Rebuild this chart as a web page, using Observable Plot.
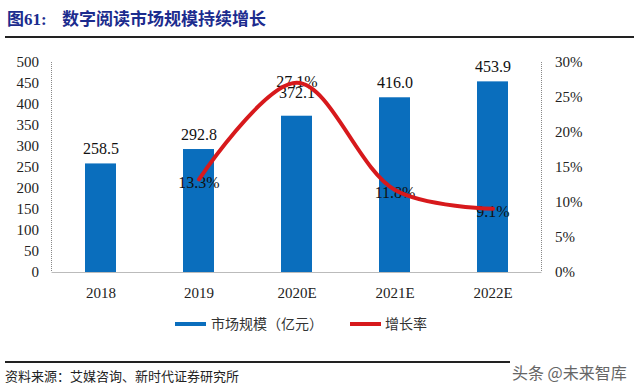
<!DOCTYPE html>
<html>
<head>
<meta charset="utf-8">
<script src="https://cdn.jsdelivr.net/npm/d3@7"></script>
<script src="https://cdn.jsdelivr.net/npm/@observablehq/plot@0.6"></script>
<style>
  html, body { margin: 0; padding: 0; background: #fff; }
  #wrap { position: relative; width: 640px; height: 386px; overflow: hidden; background: #fff; }
  .title { position: absolute; left: 7px; top: 5px; font-family: "Noto Sans CJK SC", sans-serif; font-weight: 700; font-size: 17px; color: #1c2c8e; white-space: nowrap; }
  .title .num { font-family: "Liberation Serif", serif; font-weight: 700; }
  .rule { position: absolute; background: #222; }
  #chart { position: absolute; left: 0; top: 40px; }
  .legend { position: absolute; top: 313px; font-family: "Noto Sans CJK SC", sans-serif; font-size: 14px; color: #333; white-space: nowrap; }
  .sw { position: absolute; top: 322px; height: 4px; width: 31px; }
  .source { position: absolute; left: 5px; top: 366px; font-family: "Noto Sans CJK SC", sans-serif; font-size: 13px; color: #222; white-space: nowrap; }
  .wm { position: absolute; left: 512px; top: 360px; font-family: "Noto Sans CJK SC", sans-serif; font-size: 16px; color: #666; white-space: nowrap; }
</style>
</head>
<body>
<div id="wrap">
  <div class="title"><span>图</span><span class="num">61:</span>&nbsp;&nbsp;&nbsp;&nbsp;数字阅读市场规模持续增长</div>
  <div class="rule" style="left:5px; top:36px; width:629px; height:2px;"></div>
  <div id="chart"></div>
  <div class="sw" style="left:175px; background:#0a6ebd;"></div>
  <div class="legend" style="left:211px;">市场规模（亿元）</div>
  <div class="sw" style="left:350px; background:#d7191c;"></div>
  <div class="legend" style="left:385px;">增长率</div>
  <div class="rule" style="left:5px; top:361px; width:505px; height:1.5px;"></div>
  <div class="source">资料来源：艾媒咨询、新时代证券研究所</div>
  <div class="wm">头条 @未来智库</div>
</div>
<script>
const years = ["2018", "2019", "2020E", "2021E", "2022E"];
const marketSize = [258.5, 292.8, 372.1, 416.0, 453.9];
const growthYears = ["2019", "2020E", "2021E", "2022E"];
const growthRate = [13.3, 27.1, 11.8, 9.1];
const leftTicks = [0, 50, 100, 150, 200, 250, 300, 350, 400, 450, 500];
const rightTicks = [0, 5, 10, 15, 20, 25, 30];

const leftMax = 500, rightMax = 30;
const k = leftMax / rightMax;

const bars = years.map((y, i) => ({year: y, value: marketSize[i]}));
const growth = growthYears.map((y, i) => ({year: y, rate: growthRate[i], scaled: growthRate[i] * k}));

const serif = "Liberation Serif, Times New Roman, serif";

const plot = Plot.plot({
  width: 640,
  height: 270,
  marginTop: 22,
  marginBottom: 38,
  marginLeft: 51.5,
  marginRight: 98.5,
  style: {fontFamily: serif, fontSize: "15px", color: "#222", background: "transparent"},
  x: {domain: years, paddingInner: 0.685, paddingOuter: 0.3425, align: 0.5, label: null},
  y: {domain: [0, leftMax], label: null},
  marks: [
    Plot.axisY(leftTicks, {anchor: "left", tickSize: 0, tickPadding: 13, label: null, fontSize: 15, fill: "#222"}),
    Plot.axisY(rightTicks.map(t => t * k), {anchor: "right", tickSize: 0, tickPadding: 13, label: null, fontSize: 15, fill: "#222", tickFormat: d => Math.round(d / k) + "%"}),
    Plot.axisX({tickSize: 0, tickPadding: 15, label: null, fontSize: 15, fill: "#222"}),
    Plot.barY(bars, {x: "year", y: "value", fill: "#0a6ebd"}),
    Plot.ruleY([0], {stroke: "#bbb", strokeWidth: 1}),
    Plot.text(bars.filter(d => d.year !== "2020E"), {x: "year", y: "value", text: d => d.value.toFixed(1), dy: -15, fontSize: 16, fill: "#111"}),
    Plot.text(bars.filter(d => d.year === "2020E"), {x: "year", y: "value", text: d => d.value.toFixed(1), dy: -23, fontSize: 16, fill: "#111"}),
    Plot.text(growth.filter(d => d.year !== "2020E"), {x: "year", y: "scaled", text: d => d.rate.toFixed(1) + "%", dy: 3, fontSize: 16, fill: "#111"}),
    Plot.text(growth.filter(d => d.year === "2020E"), {x: "year", y: "scaled", text: d => d.rate.toFixed(1) + "%", dy: -1, fontSize: 16, fill: "#111"}),
    Plot.line(growth, {x: "year", y: "scaled", stroke: "#d7191c", strokeWidth: 4, curve: "catmull-rom"})
  ]
});

// dotted vertical axis lines on both sides
const svg = d3.select(plot);
const x0 = 51.5, x1 = 541.5, yTop = 22, yBot = 232;
const g = svg.append("g").attr("stroke", "#888").attr("stroke-width", 1).attr("stroke-dasharray", "1,1");
g.append("line").attr("x1", x0).attr("x2", x0).attr("y1", yTop).attr("y2", yBot);
g.append("line").attr("x1", x1).attr("x2", x1).attr("y1", yTop).attr("y2", yBot);

document.getElementById("chart").appendChild(plot);
</script>
</body>
</html>
